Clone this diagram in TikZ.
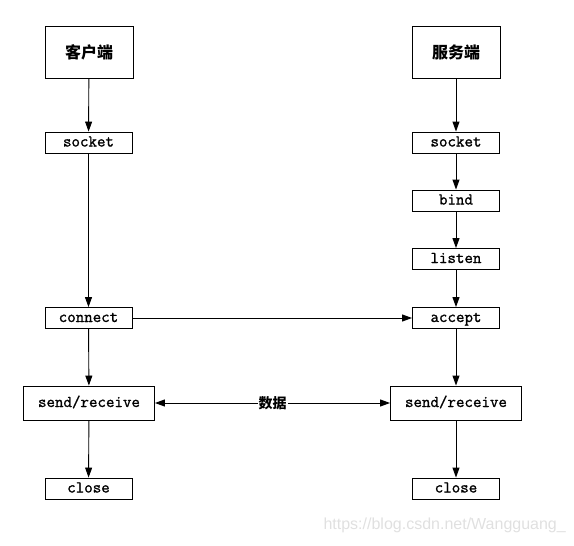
\documentclass[tikz,border=0pt]{standalone}
\usepackage{fontspec}
\newfontfamily\cjk{Noto Sans CJK SC}
\newfontfamily\wmfont{Liberation Sans}
\newfontfamily\monob[FakeBold=1.2]{Latin Modern Mono}
\usetikzlibrary{arrows.meta}
\begin{document}
\begin{tikzpicture}[x=1pt,y=-1pt,
  box/.style={draw, line width=0.9pt, minimum width=87pt, minimum height=21pt, inner sep=0pt, text height=10pt, text depth=2pt, font=\monob\fontsize{16.5}{16.5}\selectfont},
  wide/.style={box, minimum width=131pt, minimum height=34pt},
  head/.style={draw, line width=0.9pt, minimum height=52pt, minimum width=88pt, inner sep=0pt, font=\cjk\bfseries\fontsize{16}{16}\selectfont},
  arr/.style={line width=0.9pt, -{Triangle[length=10pt,width=7pt]}},
  darr/.style={line width=0.9pt, {Triangle[length=10pt,width=7pt]}-{Triangle[length=10pt,width=7pt]}}]
\useasboundingbox (0,0) rectangle (574,546);
\node[head] (cl) at (89,52) {客户端};
\node[head] (sv) at (456,52) {服务端};
\node[box] (s1) at (88.5,142.5) {socket};
\node[box] (s2) at (456,142.5) {socket};
\node[box] (bd) at (456,200.5) {bind};
\node[box] (ls) at (456,259) {listen};
\node[box] (cn) at (88.5,318) {connect};
\node[box] (ac) at (456,318) {accept};
\node[wide] (sr1) at (89,403) {send/receive};
\node[wide] (sr2) at (456,403) {send/receive};
\node[box] (c1) at (88.5,488.5) {close};
\node[box] (c2) at (456,488.5) {close};
\draw[arr] (cl) -- (s1);
\draw[arr] (s1) -- (cn);
\draw[arr] (cn) -- (sr1);
\draw[arr] (sr1) -- (c1);
\draw[arr] (sv) -- (s2);
\draw[arr] (s2) -- (bd);
\draw[arr] (bd) -- (ls);
\draw[arr] (ls) -- (ac);
\draw[arr] (ac) -- (sr2);
\draw[arr] (sr2) -- (c2);
\draw[arr] (cn) -- (ac);
\draw[darr] (sr1) -- node[fill=white, inner sep=1pt, font=\cjk\bfseries\fontsize{14}{14}\selectfont] (dt) {数据} (sr2);
\node[text=black!12, font=\wmfont\fontsize{16}{16}\selectfont, anchor=east, inner sep=0pt] (wm) at (566,525) {https://blog.csdn.net/Wangguang\_};
\end{tikzpicture}
\end{document}
